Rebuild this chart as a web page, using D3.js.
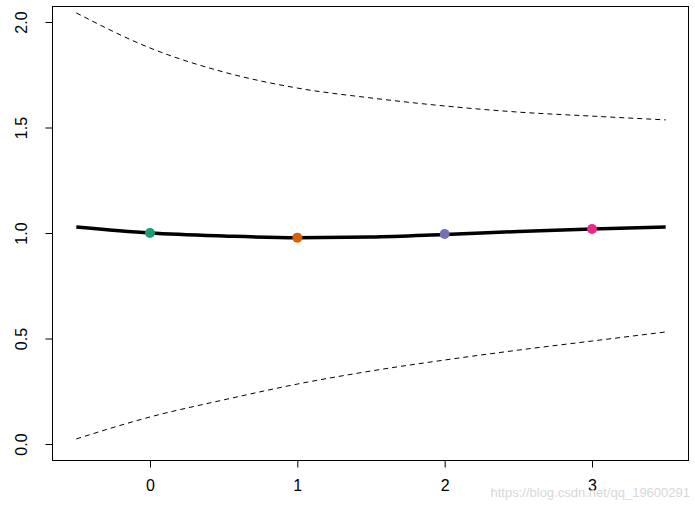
<!DOCTYPE html>
<html><head><meta charset="utf-8">
<script src="https://cdn.jsdelivr.net/npm/d3@7"></script>
<style>body{margin:0;background:#fff}</style>
</head><body>
<script>
// data
const xs = [-0.5, 0, 0.5, 1, 1.5, 2, 2.5, 3, 3.5];
const fitted = [1.028, 1.0, 0.986, 0.978, 0.981, 0.993, 1.007, 1.019, 1.029];
const upper = [2.043, 1.877, 1.763, 1.687, 1.64, 1.602, 1.573, 1.554, 1.536];
const lower = [0.024, 0.128, 0.209, 0.284, 0.346, 0.398, 0.445, 0.488, 0.531];
const groups = [0, 1, 2, 3];
const groupVals = [1.0, 0.978, 0.995, 1.019];
const groupColors = ["#1B9E77", "#D95F02", "#7570B3", "#E7298A"];
const yTicks = [0, 0.5, 1, 1.5, 2];

const W = 695, H = 510;
const svg = d3.select("body").append("svg").attr("width", W).attr("height", H);

const x = d3.scaleLinear().domain([-0.5, 3.5]).range([76.3, 665.7]);
const y = d3.scaleLinear().domain([0, 2]).range([444, 22]);

// plot box
svg.append("rect").attr("x", 52.5).attr("y", 6.5).attr("width", 636).attr("height", 454)
  .attr("fill", "none").attr("stroke", "#000");

const line = d3.line().x((d, i) => x(xs[i])).y(d => y(d)).curve(d3.curveMonotoneX);

svg.append("path").attr("d", line(upper)).attr("fill", "none")
  .attr("stroke", "#000").attr("stroke-dasharray", "5,4");
svg.append("path").attr("d", line(lower)).attr("fill", "none")
  .attr("stroke", "#000").attr("stroke-dasharray", "5,4");
svg.append("path").attr("d", line(fitted)).attr("fill", "none")
  .attr("stroke", "#000").attr("stroke-width", 3.5);

svg.selectAll("circle.g").data(groups).enter().append("circle")
  .attr("cx", d => x(d)).attr("cy", (d, i) => y(groupVals[i]))
  .attr("r", 5).attr("fill", (d, i) => groupColors[i]);

// axes
const xAxis = svg.append("g").attr("transform", "translate(0,460.5)")
  .call(d3.axisBottom(x).tickValues(groups).tickSize(7).tickFormat(d3.format("d")));
const yAxis = svg.append("g").attr("transform", "translate(52.5,0)")
  .call(d3.axisLeft(y).tickValues(yTicks).tickSize(7).tickFormat(d3.format(".1f")));
[xAxis, yAxis].forEach(a => {
  a.select(".domain").remove();
  a.selectAll("text").style("font-family", "Liberation Sans, Arial").style("font-size", "16px").attr("fill", "#000");
});
xAxis.selectAll("text").attr("dy", "1.25em");
yAxis.selectAll("text").attr("transform", "rotate(-90)").attr("x", 0).attr("dx", 0)
  .attr("y", -26).attr("text-anchor", "middle").attr("dy", 0);

svg.append("text").attr("x", 690).attr("y", 497).attr("text-anchor", "end")
  .style("font-family", "Liberation Sans, Arial").style("font-size", "13px")
  .attr("fill", "#d8d8d8").text("https://blog.csdn.net/qq_19600291");
</script>
</body></html>
